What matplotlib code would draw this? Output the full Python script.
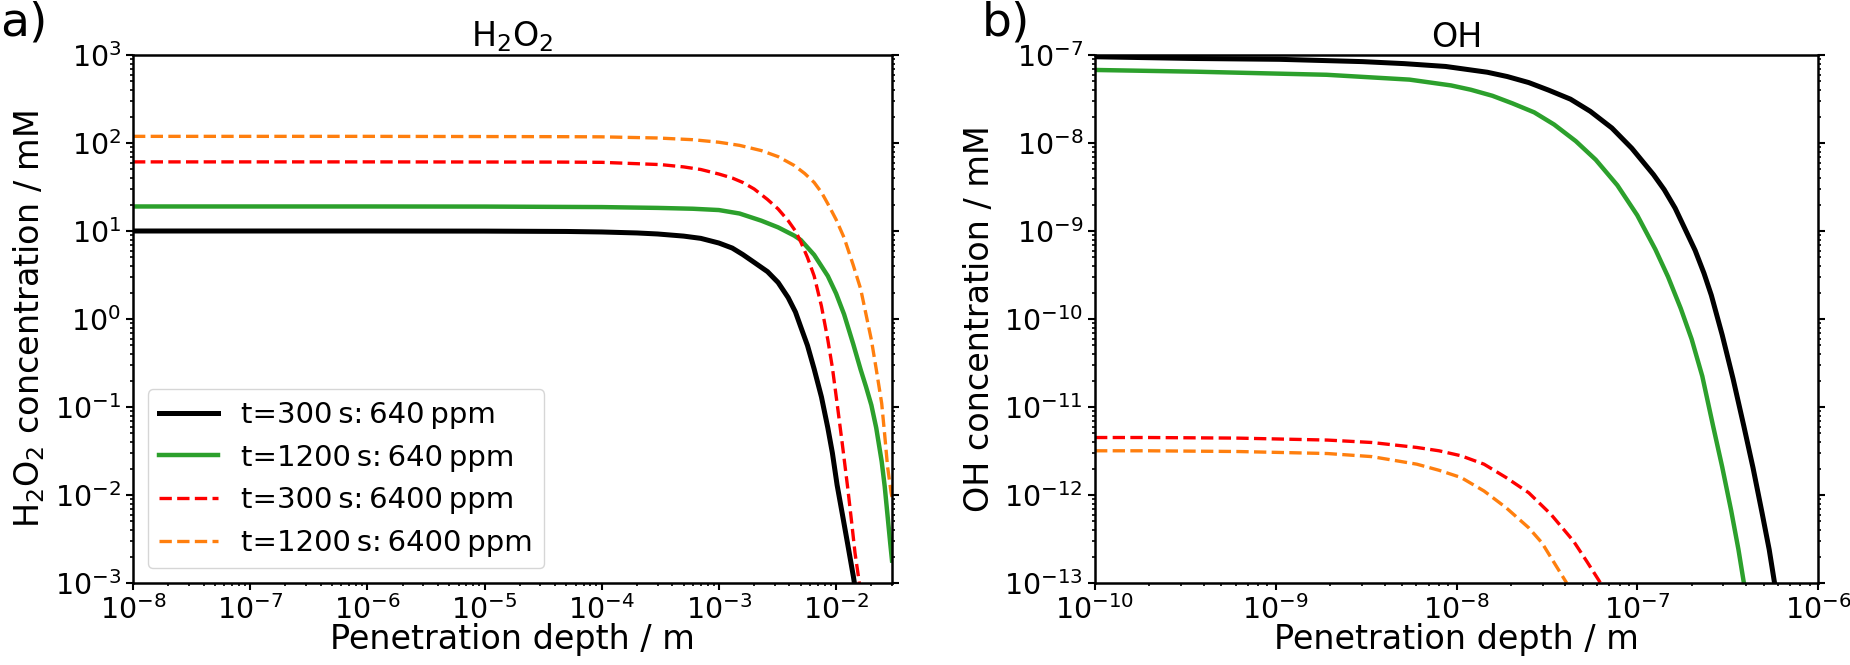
import matplotlib
matplotlib.use("Agg")
import matplotlib.pyplot as plt

# --- a) H2O2 profiles (depth in m, concentration in mM) ---
h2o2_k_x = [1e-8, 1e-6, 1e-5, 5e-5, 1e-4, 2e-4, 3e-4, 5e-4, 7e-4, 1.0e-3, 1.3e-3, 1.6e-3,
            2.0e-3, 2.6e-3, 3.2e-3, 3.9e-3, 4.5e-3, 5.0e-3, 5.7e-3, 6.5e-3, 7.5e-3,
            8.5e-3, 9.3e-3, 1.02e-2, 1.13e-2, 1.26e-2, 1.41e-2, 1.45e-2]
h2o2_k_y = [10.0, 10.0, 9.97, 9.88, 9.75, 9.5, 9.25, 8.75, 8.25, 7.3, 6.4, 5.4,
            4.4, 3.45, 2.6, 1.75, 1.2, 0.81, 0.5, 0.27, 0.13,
            0.058, 0.03, 0.013, 0.0061, 0.0027, 0.00115, 0.0009]

h2o2_g_x = [1e-8, 1e-6, 1e-5, 1e-4, 3e-4, 6e-4, 1e-3, 1.5e-3, 2.3e-3, 3.2e-3, 4.4e-3,
            5.0e-3, 6.5e-3, 8.5e-3, 1.0e-2, 1.17e-2, 1.4e-2, 1.62e-2, 1.8e-2, 2.0e-2,
            2.2e-2, 2.45e-2, 2.6e-2, 2.75e-2, 2.9e-2, 3.0e-2]
h2o2_g_y = [19.0, 19.0, 18.95, 18.7, 18.3, 17.9, 17.3, 15.8, 13.1, 11.0, 8.85,
            7.9, 5.35, 3.08, 1.95, 1.13, 0.52, 0.266, 0.17, 0.105,
            0.058, 0.024, 0.0125, 0.0058, 0.0028, 0.0018]

h2o2_r_x = [1e-8, 1e-6, 4.4e-5, 1e-4, 3.2e-4, 5e-4, 7e-4, 1e-3, 1.3e-3, 1.6e-3, 2.0e-3,
            2.6e-3, 3.2e-3, 3.9e-3, 4.5e-3, 5.0e-3, 5.7e-3, 6.5e-3, 7.5e-3, 8.5e-3,
            9.3e-3, 1.02e-2, 1.13e-2, 1.26e-2, 1.36e-2, 1.45e-2, 1.58e-2]
h2o2_r_y = [61, 61, 60.7, 60.3, 56.8, 53.5, 50, 44.4, 40, 35.6, 30,
            22.8, 17.8, 13.1, 10, 7.5, 5.0, 3.08, 1.4, 0.58,
            0.28, 0.11, 0.038, 0.0117, 0.0048, 0.0022, 0.001]

h2o2_o_x = [1e-8, 1e-6, 4.4e-5, 1e-4, 3e-4, 6e-4, 1e-3, 1.5e-3, 2.3e-3, 3.2e-3, 4.4e-3,
            5.4e-3, 6.5e-3, 7.5e-3, 8.5e-3, 1.0e-2, 1.17e-2, 1.4e-2, 1.62e-2, 1.8e-2,
            2.0e-2, 2.2e-2, 2.45e-2, 2.6e-2, 2.75e-2, 2.95e-2, 3.0e-2]
h2o2_o_y = [119, 119, 118, 117.5, 114, 109, 102, 94, 82, 70, 55.5,
            45, 35.6, 27.5, 20.4, 13.5, 8.4, 4.1, 2.2, 1.13,
            0.58, 0.27, 0.11, 0.048, 0.021, 0.0106, 0.0095]

# --- b) OH profiles ---
oh_k_x = [1e-10, 3.63e-10, 1.05e-9, 3.02e-9, 5.13e-9, 8.71e-9, 1.48e-8, 1.91e-8, 2.51e-8,
          3.24e-8, 4.27e-8, 5.50e-8, 7.24e-8, 9.33e-8, 1.23e-7, 1.41e-7, 1.62e-7,
          1.82e-7, 2.09e-7, 2.34e-7, 2.57e-7, 2.95e-7, 3.39e-7, 3.89e-7, 4.37e-7,
          4.90e-7, 5.37e-7, 5.75e-7]
oh_k_y = [9.55e-8, 9.12e-8, 8.93e-8, 8.41e-8, 7.98e-8, 7.41e-8, 6.37e-8, 5.69e-8, 4.86e-8,
          3.98e-8, 3.15e-8, 2.29e-8, 1.48e-8, 8.71e-9, 4.37e-9, 2.95e-9, 1.82e-9,
          1.10e-9, 6.03e-10, 3.31e-10, 1.86e-10, 6.61e-11, 2.09e-11, 6.03e-12, 2.04e-12,
          6.31e-13, 2.40e-13, 1.0e-13]

oh_g_x = [1e-10, 3.63e-10, 1.91e-9, 5.50e-9, 9.33e-9, 1.20e-8, 1.58e-8, 2.04e-8, 2.69e-8,
          3.47e-8, 4.57e-8, 5.89e-8, 7.76e-8, 1.0e-7, 1.26e-7, 1.48e-7, 1.74e-7,
          2.00e-7, 2.29e-7, 2.63e-7, 2.95e-7, 3.31e-7, 3.63e-7, 3.89e-7]
oh_g_y = [6.76e-8, 6.46e-8, 5.96e-8, 5.25e-8, 4.51e-8, 4.03e-8, 3.44e-8, 2.82e-8, 2.23e-8,
          1.62e-8, 1.05e-8, 6.46e-9, 3.31e-9, 1.51e-9, 6.17e-10, 3.02e-10, 1.32e-10,
          5.89e-11, 2.24e-11, 6.03e-12, 2.09e-12, 6.61e-13, 2.40e-13, 1.0e-13]

oh_r_x = [1e-10, 1.97e-10, 6.17e-10, 1.93e-9, 3.40e-9, 6.03e-9, 8.0e-9, 1.06e-8, 1.42e-8,
          1.88e-8, 2.51e-8, 3.33e-8, 4.44e-8, 5.25e-8, 6.17e-8, 6.25e-8]
oh_r_y = [4.5e-12, 4.5e-12, 4.43e-12, 4.21e-12, 3.95e-12, 3.47e-12, 3.18e-12, 2.79e-12,
          2.24e-12, 1.58e-12, 1.06e-12, 6.03e-13, 2.99e-13, 1.77e-13, 1.05e-13, 1.0e-13]

oh_o_x = [1e-10, 1.97e-10, 6.17e-10, 1.93e-9, 3.40e-9, 6.03e-9, 8.0e-9, 1.06e-8, 1.42e-8,
          1.88e-8, 2.51e-8, 2.97e-8, 3.52e-8, 4.07e-8]
oh_o_y = [3.18e-12, 3.18e-12, 3.12e-12, 2.96e-12, 2.73e-12, 2.24e-12, 1.91e-12, 1.58e-12,
          1.11e-12, 7.18e-13, 4.24e-13, 2.86e-13, 1.62e-13, 1.0e-13]

ts = '\u2009'
labels = [f't=300{ts}s:{ts}640{ts}ppm', f't=1200{ts}s:{ts}640{ts}ppm',
          f't=300{ts}s:{ts}6400{ts}ppm', f't=1200{ts}s:{ts}6400{ts}ppm']

plt.rcParams['font.size'] = 24
plt.rcParams['axes.linewidth'] = 1.8
for ax_ in ('xtick', 'ytick'):
    plt.rcParams[f'{ax_}.labelsize'] = 20.5
    plt.rcParams[f'{ax_}.major.size'] = 5
    plt.rcParams[f'{ax_}.major.width'] = 1.5
    plt.rcParams[f'{ax_}.minor.size'] = 2.5
    plt.rcParams[f'{ax_}.minor.width'] = 1.2

fig = plt.figure(figsize=(18.5, 6.65), dpi=100)
W, H = 1850, 665
ax1 = fig.add_axes([133 / W, (H - 583) / H, (892 - 133) / W, (583 - 55) / H])
ax2 = fig.add_axes([1095 / W, (H - 583) / H, (1818 - 1095) / W, (583 - 55) / H])

ax1.plot(h2o2_k_x, h2o2_k_y, color='k', lw=3.6, label=labels[0])
ax1.plot(h2o2_g_x, h2o2_g_y, color='tab:green', lw=3.2, label=labels[1])
ax1.plot(h2o2_r_x, h2o2_r_y, color='red', lw=2.4, ls='--', label=labels[2])
ax1.plot(h2o2_o_x, h2o2_o_y, color='tab:orange', lw=2.4, ls='--', label=labels[3])

ax2.plot(oh_k_x, oh_k_y, color='k', lw=3.6)
ax2.plot(oh_g_x, oh_g_y, color='tab:green', lw=3.2)
ax2.plot(oh_r_x, oh_r_y, color='red', lw=2.4, ls='--')
ax2.plot(oh_o_x, oh_o_y, color='tab:orange', lw=2.4, ls='--')

for ax in (ax1, ax2):
    ax.set_xscale('log')
    ax.set_yscale('log')
    ax.tick_params(which='both', right=True)
    ax.set_xlabel('Penetration depth / m', labelpad=-1)

ax1.set_xlim(1e-8, 3e-2)
ax1.set_ylim(1e-3, 1e3)
ax1.set_ylabel('H$_2$O$_2$ concentration / mM', labelpad=6)
ax1.set_title('H$_2$O$_2$', fontsize=24)
ax1.legend(loc='lower left', fontsize=21, labelspacing=0.5)

ax2.set_xlim(1e-10, 1e-6)
ax2.set_ylim(1e-13, 1e-7)
ax2.set_ylabel('OH concentration / mM', labelpad=6)
ax2.set_title('OH', fontsize=24)

fig.text(0.0, 1.0, 'a)', fontsize=34, ha='left', va='top')
fig.text(982 / W, 1.0, 'b)', fontsize=34, ha='left', va='top')

fig.savefig('out.png', dpi=100)
